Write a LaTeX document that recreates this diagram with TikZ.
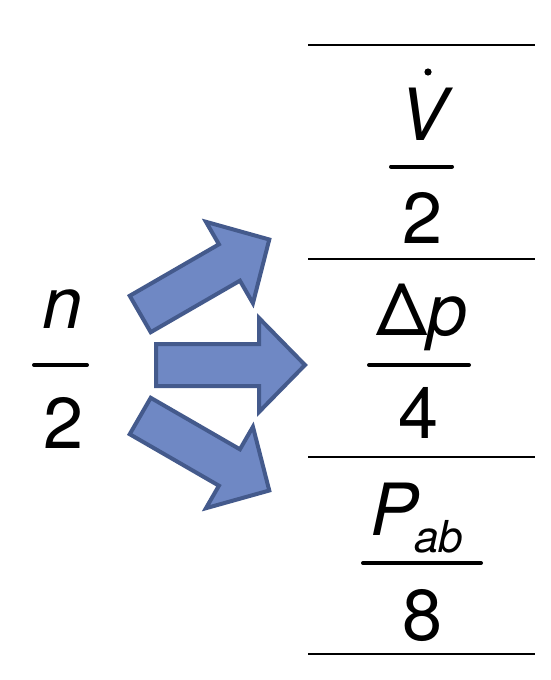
\documentclass[tikz,border=0pt]{standalone}
\usepackage{fontspec}
\setmainfont{TeX Gyre Heros}
\begin{document}
\begin{tikzpicture}[x=1pt,y=-1pt,
  blockarrow/.style={fill={rgb,255:red,111;green,136;blue,196},draw={rgb,255:red,68;green,90;blue,140},line width=4pt,line join=miter},
  rule/.style={line width=1.4pt},
  fracbar/.style={line width=4pt,line cap=round},
  big/.style={inner sep=0pt,anchor=base,font=\fontsize{72}{72}\selectfont}]
\useasboundingbox (0,0) rectangle (550,680);
% arrows
\foreach \cx/\cy/\ang in {138.5/315/30, 154/365/0, 138.5/415/-30}{
  \begin{scope}[shift={(\cx,\cy)},rotate=\ang]
    \draw[blockarrow] (2,-21) -- (105,-21) -- (105,-47) -- (151,0) -- (105,47) -- (105,21) -- (2,21) -- cycle;
  \end{scope}
}
% horizontal rules
\coordinate (r1l) at (308,45);  \coordinate (r1r) at (535,45);
\coordinate (r2l) at (308,259); \coordinate (r2r) at (535,259);
\coordinate (r3l) at (308,457); \coordinate (r3r) at (535,457);
\coordinate (r4l) at (308,654); \coordinate (r4r) at (535,654);
\draw[rule] (r1l) -- (r1r);
\draw[rule] (r2l) -- (r2r);
\draw[rule] (r3l) -- (r3r);
\draw[rule] (r4l) -- (r4r);
% V dot / 2
\node[big] (vnum) at (424,140) {\itshape V};
\fill (428,72) circle (3.6);
\coordinate (b1l) at (391,166.5); \coordinate (b1r) at (452,166.5);
\draw[fracbar] (b1l) -- (b1r);
\node[big] (vden) at (422.5,243) {2};
% Delta p / 4
\node[big] (pnum) at (422,335) {Δ\textit{p}};
\coordinate (b2l) at (369,365); \coordinate (b2r) at (469,365);
\draw[fracbar] (b2l) -- (b2r);
\node[big] (pden) at (419,438) {4};
% P_ab / 8
\node[big,anchor=base west] (Pnum) at (370,535) {\itshape P};
\node[inner sep=0pt,anchor=base west,font=\fontsize{44}{44}\selectfont\itshape] (ab) at (414,552) {ab};
\coordinate (b3l) at (363,563); \coordinate (b3r) at (481,563);
\draw[fracbar] (b3l) -- (b3r);
\node[big] (Pden) at (422.5,640) {8};
% n / 2
\node[big] (nnum) at (63,328) {\itshape n};
\coordinate (b4l) at (34,365); \coordinate (b4r) at (87,365);
\draw[fracbar] (b4l) -- (b4r);
\node[big] (nden) at (63.5,448) {2};
\end{tikzpicture}
\end{document}
